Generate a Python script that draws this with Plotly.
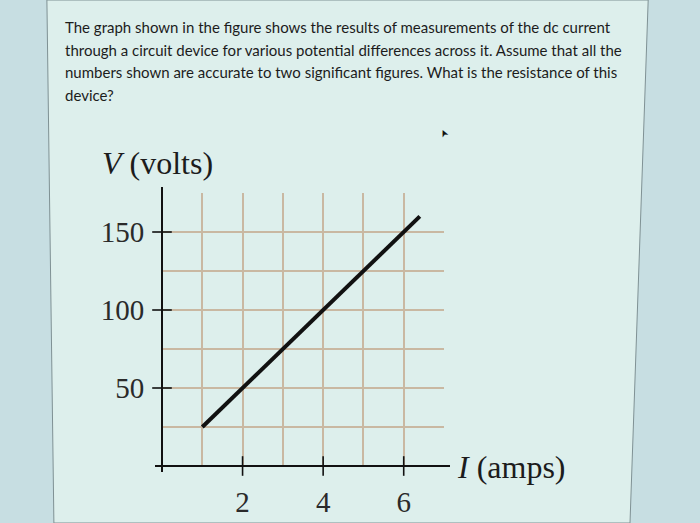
import plotly.graph_objects as go

current = [1.0, 6.4]
voltage = [25, 160]

# axis ticks and grid
x_ticks = [2, 4, 6]
y_ticks = [50, 100, 150]
x_grid_max = 7
y_grid_max = 175

question = [
    "The graph shown in the figure shows the results of measurements of the dc current",
    "through a circuit device for various potential differences across it. Assume that all the",
    "numbers shown are accurate to two significant figures. What is the resistance of this",
    "device?",
]

W, H = 700, 523

# pixel placement of the grid box (origin and far corner)
x0_px, x7_px = 162, 444
y0_px, ytop_px = 466, 193
sx = (x7_px - x0_px) / x_grid_max
sy = (y0_px - ytop_px) / y_grid_max

# axes lines run a bit past the grid
ax_left, ax_right = 155, 450
ax_bottom, ax_top = 472, 187

serif = "Liberation Serif"
grid_col = "#c9b8a2"

fig = go.Figure()

# the data line on the grid subplot
fig.add_trace(go.Scatter(
    x=current, y=voltage, mode="lines",
    line=dict(color="#111111", width=4),
    xaxis="x", yaxis="y", hoverinfo="skip", showlegend=False,
))

# tick marks crossing the axes
fig.add_trace(go.Scatter(
    x=x_ticks, y=[0] * len(x_ticks), mode="markers",
    marker=dict(symbol="line-ns", size=14, line=dict(color="#111111", width=1.6)),
    xaxis="x2", yaxis="y2", cliponaxis=False, hoverinfo="skip", showlegend=False,
))
fig.add_trace(go.Scatter(
    x=[0] * len(y_ticks), y=y_ticks, mode="markers",
    marker=dict(symbol="line-ew", size=14, line=dict(color="#111111", width=1.6)),
    xaxis="x2", yaxis="y2", cliponaxis=False, hoverinfo="skip", showlegend=False,
))

# screen panel behind the question
fig.add_shape(type="path", xref="paper", yref="paper",
              path="M 0.067,1 L 0.077,0 L 0.9,0 L 0.926,1 Z",
              fillcolor="#ddefec", line=dict(color="#7f9194", width=1), layer="below")

for i, line in enumerate(question):
    fig.add_annotation(text=line, xref="paper", yref="paper",
                       x=63 / W, y=1 - (27 + i * 22.7) / H,
                       xanchor="left", yanchor="middle", showarrow=False,
                       font=dict(family="Lato", size=15, color="#1c1c1c"))

# mouse pointer left in the photo
fig.add_annotation(text="➤", xref="paper", yref="paper", x=444 / W, y=1 - 125 / H,
                   showarrow=False, textangle=-115,
                   font=dict(family="DejaVu Sans", size=10, color="#111111"))

fig.add_annotation(text="<i>V</i> (volts)", xref="paper", yref="paper",
                   x=100 / W, y=1 - 163 / H, xanchor="left", yanchor="middle",
                   showarrow=False, font=dict(family=serif, size=32, color="#1c1c1c"))
fig.add_annotation(text="<i>I</i> (amps)", xref="paper", yref="paper",
                   x=455 / W, y=1 - 467 / H, xanchor="left", yanchor="middle",
                   showarrow=False, font=dict(family=serif, size=32, color="#1c1c1c"))

fig.update_layout(
    width=W, height=H,
    margin=dict(l=0, r=0, t=0, b=0),
    paper_bgcolor="#c7dee2",
    plot_bgcolor="rgba(0,0,0,0)",
    xaxis=dict(domain=[x0_px / W, x7_px / W], range=[0, x_grid_max],
               dtick=1, tick0=0, showgrid=True, gridcolor=grid_col, gridwidth=1.5,
               showticklabels=False, zeroline=False, showline=False, fixedrange=True),
    yaxis=dict(domain=[1 - y0_px / H, 1 - ytop_px / H], range=[0, y_grid_max],
               dtick=25, tick0=0, showgrid=True, gridcolor=grid_col, gridwidth=1.5,
               showticklabels=False, zeroline=False, showline=False, fixedrange=True),
    xaxis2=dict(domain=[ax_left / W, ax_right / W],
                range=[(ax_left - x0_px) / sx, (ax_right - x0_px) / sx],
                anchor="y2", showgrid=False, zeroline=True, zerolinecolor="#111111",
                zerolinewidth=2, tickvals=x_ticks, ticks="outside", ticklen=4,
                tickcolor="rgba(0,0,0,0)", showline=False,
                tickfont=dict(family=serif, size=29, color="#2a2a2a"), fixedrange=True),
    yaxis2=dict(domain=[1 - ax_bottom / H, 1 - ax_top / H],
                range=[(y0_px - ax_bottom) / sy, (y0_px - ax_top) / sy],
                anchor="x2", showgrid=False, zeroline=True, zerolinecolor="#111111",
                zerolinewidth=2, tickvals=y_ticks, ticks="outside", ticklen=4,
                tickcolor="rgba(0,0,0,0)", showline=False,
                tickfont=dict(family=serif, size=29, color="#2a2a2a"), fixedrange=True),
)

# page body has a default margin; drop it so the figure sits at the window corner
fig.write_html("out.html", config={"displayModeBar": False},
               post_script="document.body.style.margin = '0';")
